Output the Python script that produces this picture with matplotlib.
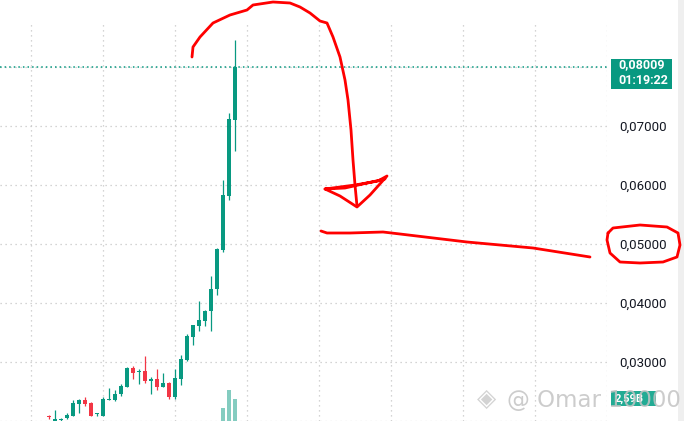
import numpy as np
import matplotlib.pyplot as plt
from matplotlib.patches import Rectangle
from matplotlib.ticker import FuncFormatter

# OHLC, one candle per bar
opens = [0.0209, 0.0196, 0.0201, 0.0205, 0.0209, 0.0229, 0.0236, 0.0231,
         0.0212, 0.0209, 0.0236, 0.0236, 0.0245, 0.0258, 0.0290, 0.0283,
         0.0285, 0.0268, 0.0271, 0.0258, 0.0265, 0.0240, 0.0271, 0.0303,
         0.0342, 0.0361, 0.0369, 0.0386, 0.0423, 0.0490, 0.0582, 0.0710]
highs = [0.0210, 0.0219, 0.0205, 0.0213, 0.0236, 0.0237, 0.0241, 0.0233,
         0.0214, 0.0241, 0.0256, 0.0253, 0.0263, 0.0292, 0.0293, 0.0288,
         0.0310, 0.0275, 0.0288, 0.0281, 0.0266, 0.0288, 0.0312, 0.0347,
         0.0363, 0.0403, 0.0389, 0.0445, 0.0493, 0.0608, 0.0722, 0.0846]
lows = [0.0204, 0.0192, 0.0196, 0.0203, 0.0208, 0.0213, 0.0226, 0.0208,
        0.0208, 0.0208, 0.0236, 0.0234, 0.0243, 0.0258, 0.0271, 0.0263,
        0.0265, 0.0246, 0.0253, 0.0258, 0.0238, 0.0238, 0.0261, 0.0302,
        0.0329, 0.0352, 0.0361, 0.0352, 0.0413, 0.0487, 0.0574, 0.0658]
closes = [0.0206, 0.0203, 0.0204, 0.0211, 0.0231, 0.0236, 0.0229, 0.0209,
          0.0213, 0.0238, 0.0238, 0.0246, 0.0260, 0.0290, 0.0281, 0.0285,
          0.0268, 0.0271, 0.0258, 0.0265, 0.0240, 0.0273, 0.0305, 0.0344,
          0.0362, 0.0371, 0.0387, 0.0424, 0.0492, 0.0584, 0.0712, 0.08009]
# volume in billions
volumes = [0.6, 0.5, 0.4, 0.5, 0.9, 0.6, 0.7, 0.8, 0.5, 0.9, 0.6, 0.5,
           0.6, 0.9, 0.7, 0.6, 0.8, 0.6, 0.7, 0.5, 0.8, 0.9, 1.0, 1.1,
           0.9, 1.0, 0.9, 1.1, 1.15, 2.02, 3.16, 2.59]

price_ticks = [0.02, 0.03, 0.04, 0.05, 0.06, 0.07, 0.08]
last_price_text = "0,08009"
countdown_text = "01:19:22"
volume_text = "2,59B"
watermark_text = "@ Omar 10000"

W, H = 684, 421
UP, DOWN = "#089981", "#f23645"
UP_VOL, DOWN_VOL = "#84ccc0", "#f89aa2"

fig = plt.figure(figsize=(W / 100, H / 100), dpi=100)
fig.patch.set_facecolor("white")

ax = fig.add_axes([0, 0, 607 / W, 399 / H])
x = np.arange(len(opens))
o, h, l, c = map(np.array, (opens, highs, lows, closes))
up = c >= o
cols = np.where(up, UP, DOWN)

# volume overlay at the bottom
ax2 = ax.twinx()
ax2.bar(x, volumes, width=0.83, color=np.where(up, UP_VOL, DOWN_VOL), zorder=1)
ax2.set_ylim(1.2, 26.4)
ax2.axis("off")

ax.vlines(x, l, h, color=cols, lw=0.9, zorder=3)
body = np.maximum(np.abs(c - o), 0.00017)
ax.bar(x, body, bottom=np.minimum(o, c), width=0.83, color=cols, zorder=4)

ax.set_xlim(-49 / 6, 93)
ax.set_ylim(0.05 - 175 / 5950, 0.05 + 224 / 5950)
ax.set_xticks(np.arange(-3, 94, 12))
ax.set_yticks(price_ticks)
ax.grid(True, color="#c6c6c6", lw=0.9, ls=(0, (1, 3)))
for s in ax.spines.values():
    s.set_visible(False)
ax.tick_params(length=0, labelbottom=False, labelleft=False, labelright=True,
               pad=8.6, labelsize=9.5, labelcolor="#131722")
for t in ax.get_yticklabels():
    t.set_fontfamily("Roboto")
ax.yaxis.set_major_formatter(FuncFormatter(
    lambda v, _: f"{v:.5f}".replace(".", ",") if 0.025 < v < 0.075 else ""))

ax.axhline(closes[-1], color=UP, lw=1.1, ls=(0, (1, 2)), zorder=2)

# overlay in pixel coordinates for labels, watermark and hand drawing
ov = fig.add_axes([0, 0, 1, 1], zorder=10)
ov.set_xlim(0, W)
ov.set_ylim(H, 0)
ov.axis("off")
ov.patch.set_alpha(0)

ov.add_patch(Rectangle((678, 0), 6, H, color="#efefef", lw=0))

fig.canvas.draw()
py = H - ax.transData.transform((0, closes[-1]))[1]
ov.add_patch(Rectangle((611, py - 8), 61, 30, color=UP, lw=0))
ov.text(618, py - 1.5, last_price_text, color="white", fontsize=9,
        family="Roboto", weight="bold", va="center", ha="left")
ov.text(618, py + 13.5, countdown_text, color="white", fontsize=9,
        family="Roboto", weight="bold", va="center", ha="left")

vy = H - ax2.transData.transform((0, volumes[-1]))[1]
ov.add_patch(Rectangle((611, vy - 7.5), 45, 15, color="#22ab94", lw=0))
ov.text(615, vy, volume_text, color="white", fontsize=8, family="Roboto",
        weight="bold", va="center", ha="left")

# watermark
ov.text(487, 399, "\u25c8", color="#cfcfcf", fontsize=18, ha="center",
        va="center", alpha=0.9)
ov.text(507, 407, watermark_text, color="#c4c4c4", fontsize=16.5,
        family="DejaVu Sans", ha="left", va="baseline", alpha=0.85)

# red hand drawn marks
strokes = [
    [(192, 57), (193, 47), (200, 37), (213, 23), (230, 15), (247, 10),
     (253, 5), (273, 2), (290, 3), (300, 7), (310, 13), (320, 21),
     (327, 23), (333, 37), (340, 57), (345, 80), (348, 100), (351, 130),
     (353, 160), (355, 185), (357, 206)],
    [(325, 189), (340, 196), (357, 207), (370, 195), (387, 176), (378, 181),
     (355, 185), (325, 189), (345, 188), (385, 179)],
    [(321, 231), (327, 233), (350, 233), (383, 232), (400, 234), (467, 242),
     (533, 248), (590, 257)],
    [(608, 233), (613, 228), (640, 225), (667, 227), (678, 233), (680, 245),
     (677, 257), (663, 262), (640, 263), (620, 262), (610, 253), (607, 240),
     (608, 233)],
]
for st in strokes:
    sx, sy = zip(*st)
    ov.plot(sx, sy, color="#ff0000", lw=2.0, solid_capstyle="round",
            solid_joinstyle="round")

fig.savefig("out.png", dpi=100)
